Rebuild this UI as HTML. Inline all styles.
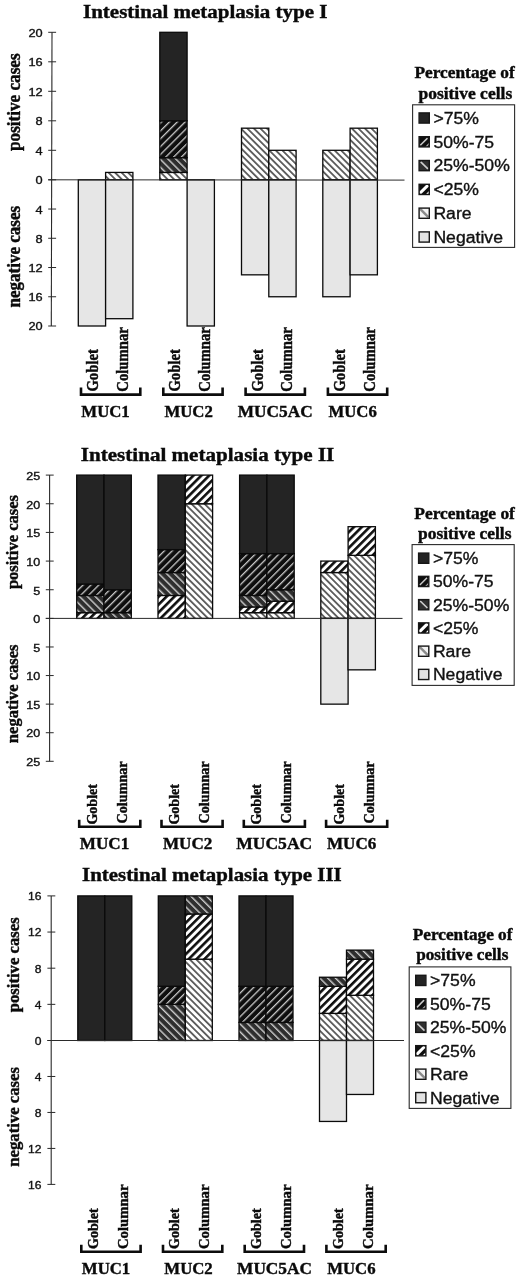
<!DOCTYPE html>
<html><head><meta charset="utf-8"><title>Intestinal metaplasia</title>
<style>html,body{margin:0;padding:0;background:#fff}svg{display:block}.t{font-family:"Liberation Serif",serif;font-weight:bold;fill:#0a0a0a;stroke:#0a0a0a;stroke-width:.4}.s{font-family:"Liberation Sans",sans-serif;fill:#111;stroke:#111;stroke-width:.35}</style></head><body>
<svg width="520" height="1279" viewBox="0 0 520 1279">
<defs>
<pattern id="p50" width="5.55" height="5.55" patternUnits="userSpaceOnUse" patternTransform="rotate(45)"><rect width="5.55" height="5.55" fill="#0e0e0e"/><rect width="1.3" height="5.55" fill="#cacaca"/></pattern>
<pattern id="p25" width="5.55" height="5.55" patternUnits="userSpaceOnUse" patternTransform="rotate(-45)"><rect width="5.55" height="5.55" fill="#2e2e2e"/><rect width="1.4" height="5.55" fill="#d0d0d0"/></pattern>
<pattern id="pl25" width="5.55" height="5.55" patternUnits="userSpaceOnUse" patternTransform="rotate(45)"><rect width="5.55" height="5.55" fill="#fff"/><rect width="2.6" height="5.55" fill="#0e0e0e"/></pattern>
<pattern id="rare" width="4.62" height="4.62" patternUnits="userSpaceOnUse" patternTransform="rotate(-45)"><rect width="4.62" height="4.62" fill="#fff"/><rect width="1.8" height="4.62" fill="#5a5a5a"/></pattern>
</defs>
<rect width="520" height="1279" fill="#fff"/>
<text class="t" font-size="19.5" transform="translate(83.00,17.80) scale(1.0779,1)">Intestinal metaplasia type I</text>
<g>
<rect x="78.30" y="179.80" width="27.30" height="146.20" fill="#e6e6e6" stroke="#0a0a0a" stroke-width="1.3"/>
<rect x="105.60" y="172.43" width="27.30" height="7.38" fill="url(#rare)" stroke="#0a0a0a" stroke-width="1.3"/>
<rect x="105.60" y="179.80" width="27.30" height="138.89" fill="#e6e6e6" stroke="#0a0a0a" stroke-width="1.3"/>
<rect x="159.80" y="172.43" width="27.30" height="7.38" fill="url(#rare)" stroke="#0a0a0a" stroke-width="1.3"/>
<rect x="159.80" y="157.68" width="27.30" height="14.75" fill="url(#p25)" stroke="#0a0a0a" stroke-width="1.3"/>
<rect x="159.80" y="120.80" width="27.30" height="36.88" fill="url(#p50)" stroke="#0a0a0a" stroke-width="1.3"/>
<rect x="159.80" y="32.30" width="27.30" height="88.50" fill="#242424" stroke="#0a0a0a" stroke-width="1.3"/>
<rect x="187.10" y="179.80" width="27.30" height="146.20" fill="#e6e6e6" stroke="#0a0a0a" stroke-width="1.3"/>
<rect x="241.50" y="128.18" width="27.30" height="51.62" fill="url(#rare)" stroke="#0a0a0a" stroke-width="1.3"/>
<rect x="241.50" y="179.80" width="27.30" height="95.03" fill="#e6e6e6" stroke="#0a0a0a" stroke-width="1.3"/>
<rect x="268.80" y="150.30" width="27.30" height="29.50" fill="url(#rare)" stroke="#0a0a0a" stroke-width="1.3"/>
<rect x="268.80" y="179.80" width="27.30" height="116.96" fill="#e6e6e6" stroke="#0a0a0a" stroke-width="1.3"/>
<rect x="322.80" y="150.30" width="27.30" height="29.50" fill="url(#rare)" stroke="#0a0a0a" stroke-width="1.3"/>
<rect x="322.80" y="179.80" width="27.30" height="116.96" fill="#e6e6e6" stroke="#0a0a0a" stroke-width="1.3"/>
<rect x="350.10" y="128.18" width="27.30" height="51.62" fill="url(#rare)" stroke="#0a0a0a" stroke-width="1.3"/>
<rect x="350.10" y="179.80" width="27.30" height="95.03" fill="#e6e6e6" stroke="#0a0a0a" stroke-width="1.3"/>
<line x1="52.0" y1="32.3" x2="51.3" y2="326.0" stroke="#2a2a2a" stroke-width="1.1"/>
<line x1="48.2" y1="179.80" x2="404.5" y2="180.10" stroke="#2a2a2a" stroke-width="1.0"/>
<line x1="48.2" y1="32.30" x2="56.1" y2="32.30" stroke="#2a2a2a" stroke-width="1.0"/>
<line x1="48.2" y1="61.80" x2="56.1" y2="61.80" stroke="#2a2a2a" stroke-width="1.0"/>
<line x1="48.2" y1="91.30" x2="56.1" y2="91.30" stroke="#2a2a2a" stroke-width="1.0"/>
<line x1="48.2" y1="120.80" x2="56.1" y2="120.80" stroke="#2a2a2a" stroke-width="1.0"/>
<line x1="48.2" y1="150.30" x2="56.1" y2="150.30" stroke="#2a2a2a" stroke-width="1.0"/>
<line x1="48.2" y1="179.80" x2="56.1" y2="179.80" stroke="#2a2a2a" stroke-width="1.0"/>
<line x1="48.2" y1="209.04" x2="56.1" y2="209.04" stroke="#2a2a2a" stroke-width="1.0"/>
<line x1="48.2" y1="238.28" x2="56.1" y2="238.28" stroke="#2a2a2a" stroke-width="1.0"/>
<line x1="48.2" y1="267.52" x2="56.1" y2="267.52" stroke="#2a2a2a" stroke-width="1.0"/>
<line x1="48.2" y1="296.76" x2="56.1" y2="296.76" stroke="#2a2a2a" stroke-width="1.0"/>
<line x1="48.2" y1="326.00" x2="56.1" y2="326.00" stroke="#2a2a2a" stroke-width="1.0"/>
</g>
<text class="s" font-size="11.4" transform="translate(28.48,36.76) scale(1.1200,1)">20</text>
<text class="s" font-size="11.4" transform="translate(28.48,66.26) scale(1.1200,1)">16</text>
<text class="s" font-size="11.4" transform="translate(28.48,95.76) scale(1.1200,1)">12</text>
<text class="s" font-size="11.4" transform="translate(35.58,125.26) scale(1.1200,1)">8</text>
<text class="s" font-size="11.4" transform="translate(35.58,154.76) scale(1.1200,1)">4</text>
<text class="s" font-size="11.4" transform="translate(35.58,184.26) scale(1.1200,1)">0</text>
<text class="s" font-size="11.4" transform="translate(35.58,213.50) scale(1.1200,1)">4</text>
<text class="s" font-size="11.4" transform="translate(35.58,242.74) scale(1.1200,1)">8</text>
<text class="s" font-size="11.4" transform="translate(28.48,271.98) scale(1.1200,1)">12</text>
<text class="s" font-size="11.4" transform="translate(28.48,301.22) scale(1.1200,1)">16</text>
<text class="s" font-size="11.4" transform="translate(28.48,330.46) scale(1.1200,1)">20</text>
<text class="t" font-size="17.16" transform="translate(19.70,150.97) scale(1.05,1) rotate(-90)">positive cases</text>
<text class="t" font-size="17.04" transform="translate(19.70,307.54) scale(1.05,1) rotate(-90)">negative cases</text>
<path d="M81.00,387.60 V394.60 H140.30 V387.60" fill="none" stroke="#0c0c0c" stroke-width="2.6"/>
<text class="t" font-size="14.72" transform="translate(97.90,391.59) scale(1.1,1) rotate(-90)">Goblet</text>
<text class="t" font-size="14.69" transform="translate(127.80,391.69) scale(1.1,1) rotate(-90)">Columnar</text>
<text class="t" font-size="17.4" transform="translate(81.30,416.70) scale(0.9650,1)">MUC1</text>
<path d="M163.30,387.60 V394.60 H222.60 V387.60" fill="none" stroke="#0c0c0c" stroke-width="2.6"/>
<text class="t" font-size="14.72" transform="translate(180.20,391.59) scale(1.1,1) rotate(-90)">Goblet</text>
<text class="t" font-size="14.69" transform="translate(210.10,391.69) scale(1.1,1) rotate(-90)">Columnar</text>
<text class="t" font-size="17.4" transform="translate(164.40,416.70) scale(0.9650,1)">MUC2</text>
<path d="M245.60,387.60 V394.60 H304.90 V387.60" fill="none" stroke="#0c0c0c" stroke-width="2.6"/>
<text class="t" font-size="14.72" transform="translate(262.50,391.59) scale(1.1,1) rotate(-90)">Goblet</text>
<text class="t" font-size="14.69" transform="translate(292.40,391.69) scale(1.1,1) rotate(-90)">Columnar</text>
<text class="t" font-size="17.4" transform="translate(237.80,416.70) scale(0.9935,1)">MUC5AC</text>
<path d="M327.90,387.60 V394.60 H387.20 V387.60" fill="none" stroke="#0c0c0c" stroke-width="2.6"/>
<text class="t" font-size="14.72" transform="translate(344.80,391.59) scale(1.1,1) rotate(-90)">Goblet</text>
<text class="t" font-size="14.69" transform="translate(374.70,391.69) scale(1.1,1) rotate(-90)">Columnar</text>
<text class="t" font-size="17.4" transform="translate(328.50,416.70) scale(0.9618,1)">MUC6</text>
<text class="t" font-size="16.6" transform="translate(414.40,78.30) scale(1.0450,1)">Percentage of</text>
<text class="t" font-size="16.6" transform="translate(418.40,98.60) scale(1.0549,1)">positive cells</text>
<rect x="412.6" y="104.8" width="102.00" height="142.60" fill="#fff" stroke="#2a2a2a" stroke-width="1.1"/>
<g><svg x="419.10" y="112.90" width="10.2" height="10.2" viewBox="0 0 10.2 10.2"><rect width="10.2" height="10.2" fill="#242424"/></svg><rect x="419.10" y="112.90" width="10.2" height="10.2" fill="none" stroke="#161616" stroke-width="1.4"/></g>
<text class="s" font-size="16.4" transform="translate(433.40,123.85) scale(1.075,1)">&gt;75%</text>
<g><svg x="419.10" y="136.70" width="10.2" height="10.2" viewBox="0 0 10.2 10.2"><rect width="10.2" height="10.2" fill="#0e0e0e"/><path d="M1.2,8.6 L8.399999999999999,1.4" stroke="#c8c8c8" stroke-width="1.5"/><path d="M6.799999999999999,10.2 L10.2,6.799999999999999" stroke="#aaa" stroke-width="1.2"/></svg><rect x="419.10" y="136.70" width="10.2" height="10.2" fill="none" stroke="#161616" stroke-width="1.4"/></g>
<text class="s" font-size="16.4" transform="translate(433.40,147.65) scale(1.075,1)">50%-75</text>
<g><svg x="419.10" y="160.50" width="10.2" height="10.2" viewBox="0 0 10.2 10.2"><rect width="10.2" height="10.2" fill="#303030"/><path d="M1.6,1.4 L8.799999999999999,8.399999999999999" stroke="#cfcfcf" stroke-width="1.6"/></svg><rect x="419.10" y="160.50" width="10.2" height="10.2" fill="none" stroke="#161616" stroke-width="1.4"/></g>
<text class="s" font-size="16.4" transform="translate(433.40,171.45) scale(1.075,1)">25%-50%</text>
<g><svg x="419.10" y="184.30" width="10.2" height="10.2" viewBox="0 0 10.2 10.2"><rect width="10.2" height="10.2" fill="#0e0e0e"/><path d="M0.8,9.0 L9.0,0.8" stroke="#fff" stroke-width="3"/><path d="M7.6,10.2 L10.2,7.6" stroke="#fff" stroke-width="1.6"/></svg><rect x="419.10" y="184.30" width="10.2" height="10.2" fill="none" stroke="#161616" stroke-width="1.4"/></g>
<text class="s" font-size="16.4" transform="translate(433.40,195.25) scale(1.075,1)">&lt;25%</text>
<g><svg x="419.10" y="208.10" width="10.2" height="10.2" viewBox="0 0 10.2 10.2"><rect width="10.2" height="10.2" fill="#f4f4f4"/><path d="M1,0.8 L9.2,9.0" stroke="#8a8a8a" stroke-width="2.4"/></svg><rect x="419.10" y="208.10" width="10.2" height="10.2" fill="none" stroke="#161616" stroke-width="1.4"/></g>
<text class="s" font-size="16.4" transform="translate(433.40,219.05) scale(1.075,1)">Rare</text>
<g><svg x="419.10" y="231.90" width="10.2" height="10.2" viewBox="0 0 10.2 10.2"><rect width="10.2" height="10.2" fill="#e2e2e2"/></svg><rect x="419.10" y="231.90" width="10.2" height="10.2" fill="none" stroke="#161616" stroke-width="1.4"/></g>
<text class="s" font-size="16.4" transform="translate(433.40,242.85) scale(1.075,1)">Negative</text>
<text class="t" font-size="19.5" transform="translate(80.80,460.90) scale(1.0814,1)">Intestinal metaplasia type II</text>
<g>
<rect x="76.70" y="612.67" width="27.30" height="5.73" fill="url(#pl25)" stroke="#0a0a0a" stroke-width="1.3"/>
<rect x="76.70" y="595.47" width="27.30" height="17.20" fill="url(#p25)" stroke="#0a0a0a" stroke-width="1.3"/>
<rect x="76.70" y="584.01" width="27.30" height="11.46" fill="url(#p50)" stroke="#0a0a0a" stroke-width="1.3"/>
<rect x="76.70" y="475.10" width="27.30" height="108.91" fill="#242424" stroke="#0a0a0a" stroke-width="1.3"/>
<rect x="104.00" y="612.67" width="27.30" height="5.73" fill="url(#p25)" stroke="#0a0a0a" stroke-width="1.3"/>
<rect x="104.00" y="589.74" width="27.30" height="22.93" fill="url(#p50)" stroke="#0a0a0a" stroke-width="1.3"/>
<rect x="104.00" y="475.10" width="27.30" height="114.64" fill="#242424" stroke="#0a0a0a" stroke-width="1.3"/>
<rect x="158.00" y="595.47" width="27.30" height="22.93" fill="url(#pl25)" stroke="#0a0a0a" stroke-width="1.3"/>
<rect x="158.00" y="572.54" width="27.30" height="22.93" fill="url(#p25)" stroke="#0a0a0a" stroke-width="1.3"/>
<rect x="158.00" y="549.62" width="27.30" height="22.93" fill="url(#p50)" stroke="#0a0a0a" stroke-width="1.3"/>
<rect x="158.00" y="475.10" width="27.30" height="74.52" fill="#242424" stroke="#0a0a0a" stroke-width="1.3"/>
<rect x="185.30" y="503.76" width="27.30" height="114.64" fill="url(#rare)" stroke="#0a0a0a" stroke-width="1.3"/>
<rect x="185.30" y="475.10" width="27.30" height="28.66" fill="url(#pl25)" stroke="#0a0a0a" stroke-width="1.3"/>
<rect x="239.60" y="612.67" width="27.30" height="5.73" fill="url(#rare)" stroke="#0a0a0a" stroke-width="1.3"/>
<rect x="239.60" y="606.94" width="27.30" height="5.73" fill="url(#pl25)" stroke="#0a0a0a" stroke-width="1.3"/>
<rect x="239.60" y="595.47" width="27.30" height="11.46" fill="url(#p25)" stroke="#0a0a0a" stroke-width="1.3"/>
<rect x="239.60" y="553.63" width="27.30" height="41.84" fill="url(#p50)" stroke="#0a0a0a" stroke-width="1.3"/>
<rect x="239.60" y="475.10" width="27.30" height="78.53" fill="#242424" stroke="#0a0a0a" stroke-width="1.3"/>
<rect x="266.90" y="612.67" width="27.30" height="5.73" fill="url(#rare)" stroke="#0a0a0a" stroke-width="1.3"/>
<rect x="266.90" y="601.20" width="27.30" height="11.46" fill="url(#pl25)" stroke="#0a0a0a" stroke-width="1.3"/>
<rect x="266.90" y="589.74" width="27.30" height="11.46" fill="url(#p25)" stroke="#0a0a0a" stroke-width="1.3"/>
<rect x="266.90" y="553.63" width="27.30" height="36.11" fill="url(#p50)" stroke="#0a0a0a" stroke-width="1.3"/>
<rect x="266.90" y="475.10" width="27.30" height="78.53" fill="#242424" stroke="#0a0a0a" stroke-width="1.3"/>
<rect x="320.80" y="572.54" width="27.30" height="45.86" fill="url(#rare)" stroke="#0a0a0a" stroke-width="1.3"/>
<rect x="320.80" y="561.08" width="27.30" height="11.46" fill="url(#pl25)" stroke="#0a0a0a" stroke-width="1.3"/>
<rect x="320.80" y="618.40" width="27.30" height="85.74" fill="#e6e6e6" stroke="#0a0a0a" stroke-width="1.3"/>
<rect x="348.10" y="555.35" width="27.30" height="63.05" fill="url(#rare)" stroke="#0a0a0a" stroke-width="1.3"/>
<rect x="348.10" y="526.69" width="27.30" height="28.66" fill="url(#pl25)" stroke="#0a0a0a" stroke-width="1.3"/>
<rect x="348.10" y="618.40" width="27.30" height="51.44" fill="#e6e6e6" stroke="#0a0a0a" stroke-width="1.3"/>
<line x1="49.6" y1="475.1" x2="49.6" y2="761.3" stroke="#2a2a2a" stroke-width="1.1"/>
<line x1="45.800000000000004" y1="618.40" x2="402.5" y2="618.40" stroke="#2a2a2a" stroke-width="1.0"/>
<line x1="45.800000000000004" y1="475.10" x2="53.7" y2="475.10" stroke="#2a2a2a" stroke-width="1.0"/>
<line x1="45.800000000000004" y1="503.76" x2="53.7" y2="503.76" stroke="#2a2a2a" stroke-width="1.0"/>
<line x1="45.800000000000004" y1="532.42" x2="53.7" y2="532.42" stroke="#2a2a2a" stroke-width="1.0"/>
<line x1="45.800000000000004" y1="561.08" x2="53.7" y2="561.08" stroke="#2a2a2a" stroke-width="1.0"/>
<line x1="45.800000000000004" y1="589.74" x2="53.7" y2="589.74" stroke="#2a2a2a" stroke-width="1.0"/>
<line x1="45.800000000000004" y1="618.40" x2="53.7" y2="618.40" stroke="#2a2a2a" stroke-width="1.0"/>
<line x1="45.800000000000004" y1="646.98" x2="53.7" y2="646.98" stroke="#2a2a2a" stroke-width="1.0"/>
<line x1="45.800000000000004" y1="675.56" x2="53.7" y2="675.56" stroke="#2a2a2a" stroke-width="1.0"/>
<line x1="45.800000000000004" y1="704.14" x2="53.7" y2="704.14" stroke="#2a2a2a" stroke-width="1.0"/>
<line x1="45.800000000000004" y1="732.72" x2="53.7" y2="732.72" stroke="#2a2a2a" stroke-width="1.0"/>
<line x1="45.800000000000004" y1="761.30" x2="53.7" y2="761.30" stroke="#2a2a2a" stroke-width="1.0"/>
</g>
<text class="s" font-size="11" transform="translate(26.19,479.87) scale(1.1400,1)">25</text>
<text class="s" font-size="11" transform="translate(26.19,508.52) scale(1.1400,1)">20</text>
<text class="s" font-size="11" transform="translate(26.19,537.18) scale(1.1400,1)">15</text>
<text class="s" font-size="11" transform="translate(26.19,565.85) scale(1.1400,1)">10</text>
<text class="s" font-size="11" transform="translate(33.16,594.50) scale(1.1400,1)">5</text>
<text class="s" font-size="11" transform="translate(33.16,623.16) scale(1.1400,1)">0</text>
<text class="s" font-size="11" transform="translate(33.16,651.75) scale(1.1400,1)">5</text>
<text class="s" font-size="11" transform="translate(26.19,680.32) scale(1.1400,1)">10</text>
<text class="s" font-size="11" transform="translate(26.19,708.90) scale(1.1400,1)">15</text>
<text class="s" font-size="11" transform="translate(26.19,737.49) scale(1.1400,1)">20</text>
<text class="s" font-size="11" transform="translate(26.19,766.06) scale(1.1400,1)">25</text>
<text class="t" font-size="16.52" transform="translate(18.00,589.07) scale(1.05,1) rotate(-90)">positive cases</text>
<text class="t" font-size="16.54" transform="translate(18.00,743.13) scale(1.05,1) rotate(-90)">negative cases</text>
<path d="M79.20,819.80 V826.80 H140.30 V819.80" fill="none" stroke="#0c0c0c" stroke-width="2.6"/>
<text class="t" font-size="14.02" transform="translate(96.60,824.56) scale(1.04,1) rotate(-90)">Goblet</text>
<text class="t" font-size="14.16" transform="translate(126.80,823.47) scale(1.04,1) rotate(-90)">Columnar</text>
<text class="t" font-size="17.4" transform="translate(79.80,848.60) scale(0.9852,1)">MUC1</text>
<path d="M161.50,819.80 V826.80 H222.60 V819.80" fill="none" stroke="#0c0c0c" stroke-width="2.6"/>
<text class="t" font-size="14.02" transform="translate(178.90,824.56) scale(1.04,1) rotate(-90)">Goblet</text>
<text class="t" font-size="14.16" transform="translate(209.10,823.47) scale(1.04,1) rotate(-90)">Columnar</text>
<text class="t" font-size="17.4" transform="translate(162.90,848.60) scale(0.9852,1)">MUC2</text>
<path d="M243.80,819.80 V826.80 H304.90 V819.80" fill="none" stroke="#0c0c0c" stroke-width="2.6"/>
<text class="t" font-size="14.02" transform="translate(261.20,824.56) scale(1.04,1) rotate(-90)">Goblet</text>
<text class="t" font-size="14.16" transform="translate(291.40,823.47) scale(1.04,1) rotate(-90)">Columnar</text>
<text class="t" font-size="17.4" transform="translate(236.30,848.60) scale(1.0069,1)">MUC5AC</text>
<path d="M326.10,819.80 V826.80 H387.20 V819.80" fill="none" stroke="#0c0c0c" stroke-width="2.6"/>
<text class="t" font-size="14.02" transform="translate(343.50,824.56) scale(1.04,1) rotate(-90)">Goblet</text>
<text class="t" font-size="14.16" transform="translate(373.70,823.47) scale(1.04,1) rotate(-90)">Columnar</text>
<text class="t" font-size="17.4" transform="translate(327.00,848.60) scale(0.9816,1)">MUC6</text>
<text class="t" font-size="16.6" transform="translate(414.30,518.80) scale(1.0482,1)">Percentage of</text>
<text class="t" font-size="16.6" transform="translate(418.00,538.80) scale(1.0504,1)">positive cells</text>
<rect x="412.1" y="544.6" width="102.10" height="140.80" fill="#fff" stroke="#2a2a2a" stroke-width="1.1"/>
<g><svg x="418.60" y="553.10" width="10.2" height="10.2" viewBox="0 0 10.2 10.2"><rect width="10.2" height="10.2" fill="#242424"/></svg><rect x="418.60" y="553.10" width="10.2" height="10.2" fill="none" stroke="#161616" stroke-width="1.4"/></g>
<text class="s" font-size="16.4" transform="translate(432.90,564.05) scale(1.075,1)">&gt;75%</text>
<g><svg x="418.60" y="576.35" width="10.2" height="10.2" viewBox="0 0 10.2 10.2"><rect width="10.2" height="10.2" fill="#0e0e0e"/><path d="M1.2,8.6 L8.399999999999999,1.4" stroke="#c8c8c8" stroke-width="1.5"/><path d="M6.799999999999999,10.2 L10.2,6.799999999999999" stroke="#aaa" stroke-width="1.2"/></svg><rect x="418.60" y="576.35" width="10.2" height="10.2" fill="none" stroke="#161616" stroke-width="1.4"/></g>
<text class="s" font-size="16.4" transform="translate(432.90,587.30) scale(1.075,1)">50%-75</text>
<g><svg x="418.60" y="599.60" width="10.2" height="10.2" viewBox="0 0 10.2 10.2"><rect width="10.2" height="10.2" fill="#303030"/><path d="M1.6,1.4 L8.799999999999999,8.399999999999999" stroke="#cfcfcf" stroke-width="1.6"/></svg><rect x="418.60" y="599.60" width="10.2" height="10.2" fill="none" stroke="#161616" stroke-width="1.4"/></g>
<text class="s" font-size="16.4" transform="translate(432.90,610.55) scale(1.075,1)">25%-50%</text>
<g><svg x="418.60" y="622.85" width="10.2" height="10.2" viewBox="0 0 10.2 10.2"><rect width="10.2" height="10.2" fill="#0e0e0e"/><path d="M0.8,9.0 L9.0,0.8" stroke="#fff" stroke-width="3"/><path d="M7.6,10.2 L10.2,7.6" stroke="#fff" stroke-width="1.6"/></svg><rect x="418.60" y="622.85" width="10.2" height="10.2" fill="none" stroke="#161616" stroke-width="1.4"/></g>
<text class="s" font-size="16.4" transform="translate(432.90,633.80) scale(1.075,1)">&lt;25%</text>
<g><svg x="418.60" y="646.10" width="10.2" height="10.2" viewBox="0 0 10.2 10.2"><rect width="10.2" height="10.2" fill="#f4f4f4"/><path d="M1,0.8 L9.2,9.0" stroke="#8a8a8a" stroke-width="2.4"/></svg><rect x="418.60" y="646.10" width="10.2" height="10.2" fill="none" stroke="#161616" stroke-width="1.4"/></g>
<text class="s" font-size="16.4" transform="translate(432.90,657.05) scale(1.075,1)">Rare</text>
<g><svg x="418.60" y="669.35" width="10.2" height="10.2" viewBox="0 0 10.2 10.2"><rect width="10.2" height="10.2" fill="#e2e2e2"/></svg><rect x="418.60" y="669.35" width="10.2" height="10.2" fill="none" stroke="#161616" stroke-width="1.4"/></g>
<text class="s" font-size="16.4" transform="translate(432.90,680.30) scale(1.075,1)">Negative</text>
<text class="t" font-size="19.5" transform="translate(82.00,880.90) scale(1.0726,1)">Intestinal metaplasia type III</text>
<g>
<rect x="77.80" y="895.90" width="27.00" height="144.60" fill="#242424" stroke="#0a0a0a" stroke-width="1.3"/>
<rect x="104.80" y="895.90" width="27.00" height="144.60" fill="#242424" stroke="#0a0a0a" stroke-width="1.3"/>
<rect x="158.30" y="1004.35" width="27.00" height="36.15" fill="url(#p25)" stroke="#0a0a0a" stroke-width="1.3"/>
<rect x="158.30" y="986.27" width="27.00" height="18.08" fill="url(#p50)" stroke="#0a0a0a" stroke-width="1.3"/>
<rect x="158.30" y="895.90" width="27.00" height="90.38" fill="#242424" stroke="#0a0a0a" stroke-width="1.3"/>
<rect x="185.30" y="959.16" width="27.00" height="81.34" fill="url(#rare)" stroke="#0a0a0a" stroke-width="1.3"/>
<rect x="185.30" y="913.98" width="27.00" height="45.19" fill="url(#pl25)" stroke="#0a0a0a" stroke-width="1.3"/>
<rect x="185.30" y="895.90" width="27.00" height="18.08" fill="url(#p25)" stroke="#0a0a0a" stroke-width="1.3"/>
<rect x="239.00" y="1022.42" width="27.00" height="18.08" fill="url(#p25)" stroke="#0a0a0a" stroke-width="1.3"/>
<rect x="239.00" y="986.27" width="27.00" height="36.15" fill="url(#p50)" stroke="#0a0a0a" stroke-width="1.3"/>
<rect x="239.00" y="895.90" width="27.00" height="90.38" fill="#242424" stroke="#0a0a0a" stroke-width="1.3"/>
<rect x="266.00" y="1022.42" width="27.00" height="18.08" fill="url(#p25)" stroke="#0a0a0a" stroke-width="1.3"/>
<rect x="266.00" y="986.27" width="27.00" height="36.15" fill="url(#p50)" stroke="#0a0a0a" stroke-width="1.3"/>
<rect x="266.00" y="895.90" width="27.00" height="90.38" fill="#242424" stroke="#0a0a0a" stroke-width="1.3"/>
<rect x="319.50" y="1013.39" width="27.00" height="27.11" fill="url(#rare)" stroke="#0a0a0a" stroke-width="1.3"/>
<rect x="319.50" y="986.27" width="27.00" height="27.11" fill="url(#pl25)" stroke="#0a0a0a" stroke-width="1.3"/>
<rect x="319.50" y="977.24" width="27.00" height="9.04" fill="url(#p25)" stroke="#0a0a0a" stroke-width="1.3"/>
<rect x="319.50" y="1040.50" width="27.00" height="80.94" fill="#e6e6e6" stroke="#0a0a0a" stroke-width="1.3"/>
<rect x="346.50" y="995.31" width="27.00" height="45.19" fill="url(#rare)" stroke="#0a0a0a" stroke-width="1.3"/>
<rect x="346.50" y="959.16" width="27.00" height="36.15" fill="url(#pl25)" stroke="#0a0a0a" stroke-width="1.3"/>
<rect x="346.50" y="950.12" width="27.00" height="9.04" fill="url(#p25)" stroke="#0a0a0a" stroke-width="1.3"/>
<rect x="346.50" y="1040.50" width="27.00" height="53.96" fill="#e6e6e6" stroke="#0a0a0a" stroke-width="1.3"/>
<line x1="51.2" y1="895.9" x2="51.2" y2="1184.4" stroke="#2a2a2a" stroke-width="1.1"/>
<line x1="47.400000000000006" y1="1040.50" x2="404" y2="1040.50" stroke="#2a2a2a" stroke-width="1.0"/>
<line x1="47.400000000000006" y1="895.90" x2="55.300000000000004" y2="895.90" stroke="#2a2a2a" stroke-width="1.0"/>
<line x1="47.400000000000006" y1="932.05" x2="55.300000000000004" y2="932.05" stroke="#2a2a2a" stroke-width="1.0"/>
<line x1="47.400000000000006" y1="968.20" x2="55.300000000000004" y2="968.20" stroke="#2a2a2a" stroke-width="1.0"/>
<line x1="47.400000000000006" y1="1004.35" x2="55.300000000000004" y2="1004.35" stroke="#2a2a2a" stroke-width="1.0"/>
<line x1="47.400000000000006" y1="1040.50" x2="55.300000000000004" y2="1040.50" stroke="#2a2a2a" stroke-width="1.0"/>
<line x1="47.400000000000006" y1="1076.47" x2="55.300000000000004" y2="1076.47" stroke="#2a2a2a" stroke-width="1.0"/>
<line x1="47.400000000000006" y1="1112.45" x2="55.300000000000004" y2="1112.45" stroke="#2a2a2a" stroke-width="1.0"/>
<line x1="47.400000000000006" y1="1148.43" x2="55.300000000000004" y2="1148.43" stroke="#2a2a2a" stroke-width="1.0"/>
<line x1="47.400000000000006" y1="1184.40" x2="55.300000000000004" y2="1184.40" stroke="#2a2a2a" stroke-width="1.0"/>
</g>
<text class="s" font-size="11.3" transform="translate(28.06,900.32) scale(1.0700,1)">16</text>
<text class="s" font-size="11.3" transform="translate(28.06,936.47) scale(1.0700,1)">12</text>
<text class="s" font-size="11.3" transform="translate(34.78,972.62) scale(1.0700,1)">8</text>
<text class="s" font-size="11.3" transform="translate(34.78,1008.77) scale(1.0700,1)">4</text>
<text class="s" font-size="11.3" transform="translate(34.78,1044.92) scale(1.0700,1)">0</text>
<text class="s" font-size="11.3" transform="translate(34.78,1080.90) scale(1.0700,1)">4</text>
<text class="s" font-size="11.3" transform="translate(34.78,1116.87) scale(1.0700,1)">8</text>
<text class="s" font-size="11.3" transform="translate(28.06,1152.85) scale(1.0700,1)">12</text>
<text class="s" font-size="11.3" transform="translate(28.06,1188.82) scale(1.0700,1)">16</text>
<text class="t" font-size="16.70" transform="translate(18.70,1012.37) scale(1.05,1) rotate(-90)">positive cases</text>
<text class="t" font-size="16.72" transform="translate(18.70,1166.73) scale(1.05,1) rotate(-90)">negative cases</text>
<path d="M81.30,1244.70 V1251.70 H140.60 V1244.70" fill="none" stroke="#0c0c0c" stroke-width="2.6"/>
<text class="t" font-size="14.09" transform="translate(97.70,1248.96) scale(1.02,1) rotate(-90)">Goblet</text>
<text class="t" font-size="14.69" transform="translate(127.60,1248.99) scale(1.02,1) rotate(-90)">Columnar</text>
<text class="t" font-size="17.4" transform="translate(81.80,1274.40) scale(0.9650,1)">MUC1</text>
<path d="M163.00,1244.70 V1251.70 H222.30 V1244.70" fill="none" stroke="#0c0c0c" stroke-width="2.6"/>
<text class="t" font-size="14.09" transform="translate(179.40,1248.96) scale(1.02,1) rotate(-90)">Goblet</text>
<text class="t" font-size="14.69" transform="translate(209.30,1248.99) scale(1.02,1) rotate(-90)">Columnar</text>
<text class="t" font-size="17.4" transform="translate(164.30,1274.40) scale(0.9650,1)">MUC2</text>
<path d="M244.70,1244.70 V1251.70 H304.00 V1244.70" fill="none" stroke="#0c0c0c" stroke-width="2.6"/>
<text class="t" font-size="14.09" transform="translate(261.10,1248.96) scale(1.02,1) rotate(-90)">Goblet</text>
<text class="t" font-size="14.69" transform="translate(291.00,1248.99) scale(1.02,1) rotate(-90)">Columnar</text>
<text class="t" font-size="17.4" transform="translate(237.10,1274.40) scale(0.9935,1)">MUC5AC</text>
<path d="M326.40,1244.70 V1251.70 H385.70 V1244.70" fill="none" stroke="#0c0c0c" stroke-width="2.6"/>
<text class="t" font-size="14.09" transform="translate(342.80,1248.96) scale(1.02,1) rotate(-90)">Goblet</text>
<text class="t" font-size="14.69" transform="translate(372.70,1248.99) scale(1.02,1) rotate(-90)">Columnar</text>
<text class="t" font-size="17.4" transform="translate(327.20,1274.40) scale(0.9618,1)">MUC6</text>
<text class="t" font-size="16.6" transform="translate(412.70,940.40) scale(1.0399,1)">Percentage of</text>
<text class="t" font-size="16.6" transform="translate(416.20,960.20) scale(1.0359,1)">positive cells</text>
<rect x="409.2" y="966.9" width="101.70" height="141.50" fill="#fff" stroke="#2a2a2a" stroke-width="1.1"/>
<g><svg x="415.70" y="975.30" width="10.2" height="10.2" viewBox="0 0 10.2 10.2"><rect width="10.2" height="10.2" fill="#242424"/></svg><rect x="415.70" y="975.30" width="10.2" height="10.2" fill="none" stroke="#161616" stroke-width="1.4"/></g>
<text class="s" font-size="16.4" transform="translate(430.00,986.25) scale(1.075,1)">&gt;75%</text>
<g><svg x="415.70" y="998.75" width="10.2" height="10.2" viewBox="0 0 10.2 10.2"><rect width="10.2" height="10.2" fill="#0e0e0e"/><path d="M1.2,8.6 L8.399999999999999,1.4" stroke="#c8c8c8" stroke-width="1.5"/><path d="M6.799999999999999,10.2 L10.2,6.799999999999999" stroke="#aaa" stroke-width="1.2"/></svg><rect x="415.70" y="998.75" width="10.2" height="10.2" fill="none" stroke="#161616" stroke-width="1.4"/></g>
<text class="s" font-size="16.4" transform="translate(430.00,1009.70) scale(1.075,1)">50%-75</text>
<g><svg x="415.70" y="1022.20" width="10.2" height="10.2" viewBox="0 0 10.2 10.2"><rect width="10.2" height="10.2" fill="#303030"/><path d="M1.6,1.4 L8.799999999999999,8.399999999999999" stroke="#cfcfcf" stroke-width="1.6"/></svg><rect x="415.70" y="1022.20" width="10.2" height="10.2" fill="none" stroke="#161616" stroke-width="1.4"/></g>
<text class="s" font-size="16.4" transform="translate(430.00,1033.15) scale(1.075,1)">25%-50%</text>
<g><svg x="415.70" y="1045.65" width="10.2" height="10.2" viewBox="0 0 10.2 10.2"><rect width="10.2" height="10.2" fill="#0e0e0e"/><path d="M0.8,9.0 L9.0,0.8" stroke="#fff" stroke-width="3"/><path d="M7.6,10.2 L10.2,7.6" stroke="#fff" stroke-width="1.6"/></svg><rect x="415.70" y="1045.65" width="10.2" height="10.2" fill="none" stroke="#161616" stroke-width="1.4"/></g>
<text class="s" font-size="16.4" transform="translate(430.00,1056.60) scale(1.075,1)">&lt;25%</text>
<g><svg x="415.70" y="1069.10" width="10.2" height="10.2" viewBox="0 0 10.2 10.2"><rect width="10.2" height="10.2" fill="#f4f4f4"/><path d="M1,0.8 L9.2,9.0" stroke="#8a8a8a" stroke-width="2.4"/></svg><rect x="415.70" y="1069.10" width="10.2" height="10.2" fill="none" stroke="#161616" stroke-width="1.4"/></g>
<text class="s" font-size="16.4" transform="translate(430.00,1080.05) scale(1.075,1)">Rare</text>
<g><svg x="415.70" y="1092.55" width="10.2" height="10.2" viewBox="0 0 10.2 10.2"><rect width="10.2" height="10.2" fill="#e2e2e2"/></svg><rect x="415.70" y="1092.55" width="10.2" height="10.2" fill="none" stroke="#161616" stroke-width="1.4"/></g>
<text class="s" font-size="16.4" transform="translate(430.00,1103.50) scale(1.075,1)">Negative</text>
</svg></body></html>
